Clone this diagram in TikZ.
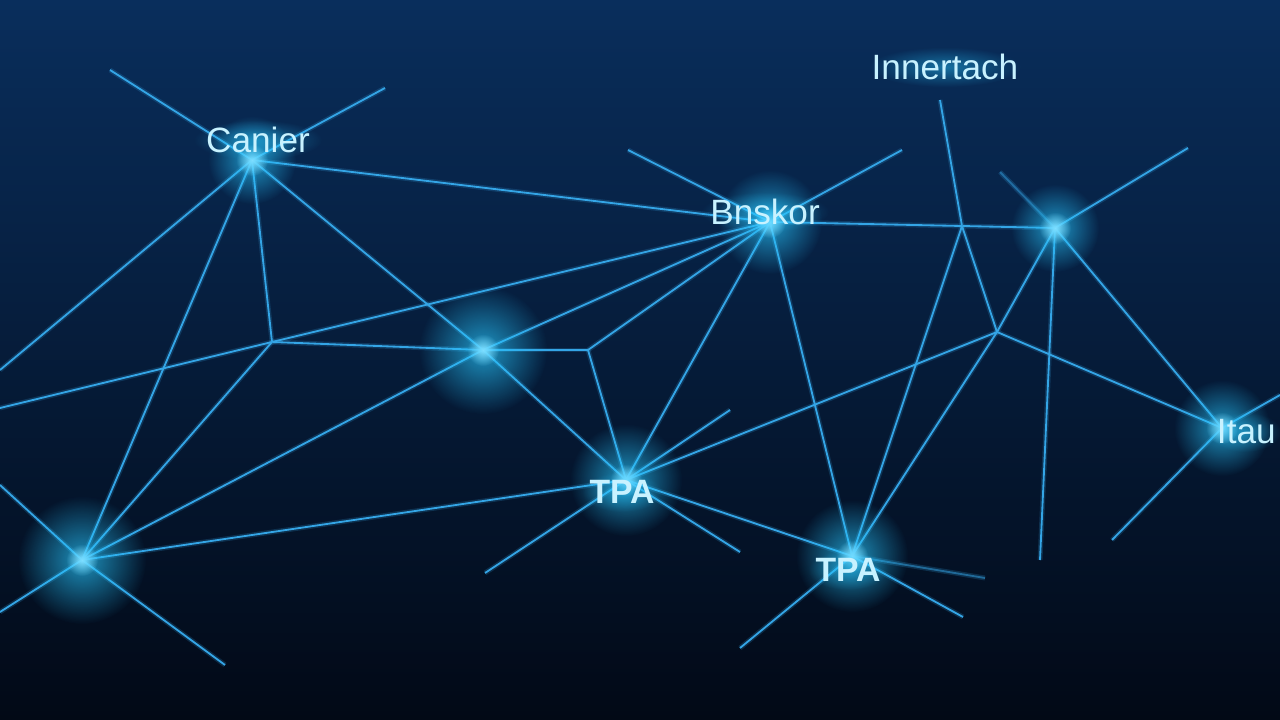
\documentclass[tikz,border=0pt]{standalone}
\usepackage{fontspec}
\setmainfont{Liberation Sans}
\usetikzlibrary{fadings}

\definecolor{bgtop}{RGB}{9,46,92}
\definecolor{bgmid}{RGB}{4,24,50}
\definecolor{bgbot}{RGB}{2,9,22}
\definecolor{wirec}{RGB}{52,165,230}
\definecolor{glowc}{RGB}{40,200,255}
\definecolor{lblc}{RGB}{200,242,255}

\tikzfading[name=glowfade, inner color=transparent!0, outer color=transparent!100]

\tikzset{
  wire/.style={draw=wirec, line width=1.3pt, preaction={draw=wirec, line width=3.5pt, opacity=0.2}},
  hub/.style={circle, inner sep=0pt, minimum size=0pt},
  lbl/.style={text=lblc, font=\fontsize{25}{25}\selectfont},
}

\begin{document}
\begin{tikzpicture}[x=0.025cm, y=-0.025cm]
    % backdrop
    \useasboundingbox (0,0) rectangle (1280,720);
    \clip (0,0) rectangle (1280,720);
    \shade[top color=bgtop, middle color=bgmid, bottom color=bgbot] (0,0) rectangle (1280,720);

    % hubs, junctions and loose ends
    \foreach \n/\x/\y in {C/252/160, B/770/222, H/1055/228, M/483/350,
                          J1/272/342, J2/588/350, J3/997/332, J4/962/226,
                          T1/626/480, T2/852/556, L/82/560, R/1222/428} {
        \node[hub] (\n) at (\x,\y) {};
    }
    \foreach \n/\x/\y in {Cs1/110/70, Cs2/385/88, Bs1/628/150, Bs2/902/150,
                          Hs1/1188/148, Hs2/1040/560, Hs3/1000/172, Ix/940/100,
                          E1/0/370, E2/0/408, E3/0/485, E4/0/612, Ls/225/665,
                          Ts1/485/573, Ts2/740/552, Ts3/730/410,
                          Us1/740/648, Us2/963/617, Us3/985/578,
                          Rs1/1112/540, Rs2/1280/395} {
        \coordinate (\n) at (\x,\y);
    }

    % connections
    \foreach \a/\b in {C/Cs1, C/Cs2, C/E1, C/L, C/J1, C/M, M/T1, C/B,
                       E2/J1, J1/B, J1/M, M/J2, J1/L, L/M, M/B,
                       L/E3, L/E4, L/Ls, L/T1, J2/B, J2/T1,
                       B/Bs1, B/Bs2, B/J4, J4/H, B/T1, B/T2,
                       T1/Ts1, T1/Ts2, T1/Ts3, T1/J3, T1/T2,
                       T2/Us1, T2/Us2, T2/J4, T2/J3, J3/H, Ix/J4, J4/J3,
                       J3/R, H/R, H/Hs1, H/Hs2, R/Rs1, R/Rs2} {
        \draw[wire] (\a) -- (\b);
    }
    \draw[wire, opacity=0.45] (H) -- (Hs3);
    \draw[wire, opacity=0.5] (T2) -- (Us3);

    % glows
    \foreach \n/\r in {C/1.1, B/1.3, H/1.1, M/1.6, T1/1.4, T2/1.4, L/1.6, R/1.2} {
        \fill[glowc, path fading=glowfade, opacity=0.7] (\n) circle (\r cm);
        \fill[white!40!glowc, path fading=glowfade] (\n) circle (0.4cm);
    }

    % labels
    \foreach \n/\x/\y/\w in {Clbl/258/140/1.6, Blbl/765/212/1.6, Ilbl/945/67/1.9,
                             T1lbl/622/492/1.0, T2lbl/848/570/1.0, Rlbl/1245/432/0.9} {
        \fill[glowc, path fading=glowfade, opacity=0.45] (\x,\y) ellipse (\w cm and 0.5cm);
    }
    \node[lbl] (Clbl) at (258,140) {Canier};
    \node[lbl] (Blbl) at (765,212) {Bnskor};
    \node[lbl] (Ilbl) at (945,67) {Innertach};
    \node[lbl, font=\fontsize{24}{24}\selectfont\bfseries] (T1lbl) at (622,492) {TPA};
    \node[lbl, font=\fontsize{24}{24}\selectfont\bfseries] (T2lbl) at (848,570) {TPA};
    \node[lbl, anchor=west] (Rlbl) at (1212,432) {Itau};
\end{tikzpicture}
\end{document}
